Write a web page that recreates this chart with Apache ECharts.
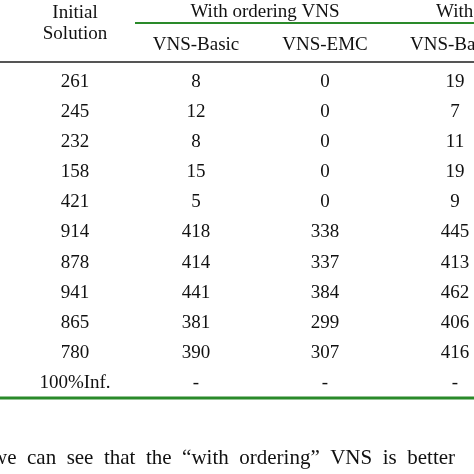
<!DOCTYPE html>
<html><head><meta charset="utf-8">
<script src="https://cdn.jsdelivr.net/npm/echarts@6/dist/echarts.min.js"></script>
<style>html,body{margin:0;padding:0;background:#fff}#main{width:474px;height:474px}</style>
</head><body><div id="main"></div>
<script>
// table contents
var initialSolution = ['261','245','232','158','421','914','878','941','865','780','100%Inf.'];
var orderBasic = ['8','12','8','15','5','418','414','441','381','390','-'];
var orderEMC = ['0','0','0','0','0','338','337','384','299','307','-'];
var otherBasic = ['19','7','11','19','9','445','413','462','406','416','-'];
var colX = [75, 196, 325, 455];
var FONT = '"Liberation Serif", "DejaVu Serif", serif';

function txt(x, y, s, align, size)
{
	return { type:'text', x:x, y:y, style:{ text:s, fill:'#111', font:(size||19)+'px '+FONT, textAlign:align||'center', textVerticalAlign:'middle' } } ;
}
function line(x1, y1, x2, y2, color, w)
{
	return { type:'line', shape:{x1:x1,y1:y1,x2:x2,y2:y2}, style:{ stroke:color, lineWidth:w } } ;
}

var els = [] ;
els.push(txt(colX[0], 13, 'Initial'));
els.push(txt(colX[0], 34, 'Solution'));
els.push(txt(265, 12, 'With ordering VNS'));
els.push(txt(436, 12, 'With', 'left'));
els.push(line(135, 23, 474, 23, '#2a8a2a', 2));
els.push(txt(colX[1], 45, 'VNS-Basic'));
els.push(txt(colX[2], 45, 'VNS-EMC'));
els.push(txt(410, 45, 'VNS-Basic', 'left'));
els.push(line(0, 62, 474, 62, '#555', 2));
var cols = [initialSolution, orderBasic, orderEMC, otherBasic] ;
for( var i = 0 ; i < initialSolution.length ; i++ )
{
	var y = 82 + i * 30.1 ;
	for( var c = 0 ; c < cols.length ; c++ )
		els.push(txt(colX[c], y, cols[c][i]));
}
els.push(line(0, 398, 474, 398, '#2a8a2a', 3));
els.push(txt(-8, 458, 'we  can  see  that  the  \u201cwith  ordering\u201d  VNS  is  better', 'left', 21));

var myChart = echarts.init(document.getElementById('main'));
myChart.setOption({ backgroundColor:'#fff', graphic: els });
</script></body></html>
